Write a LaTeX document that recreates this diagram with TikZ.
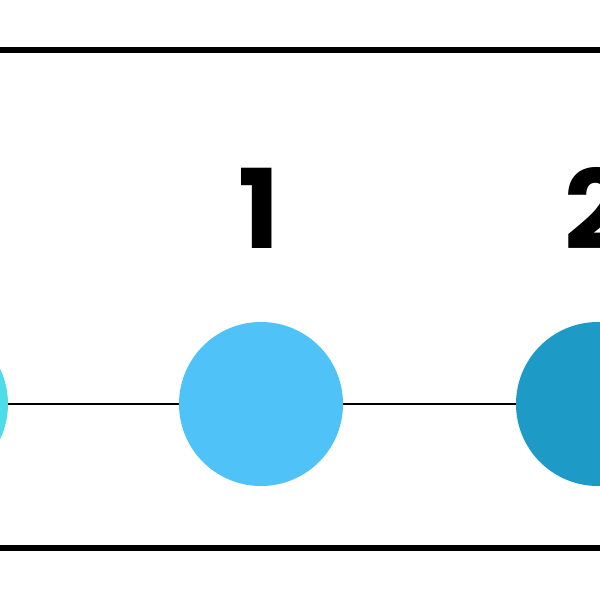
\documentclass[tikz,border=0pt]{standalone}
\usepackage{fontspec}
\newfontfamily\numfont{Poppins}
\definecolor{cA}{HTML}{4DDDE8}
\definecolor{cB}{HTML}{4FC3F7}
\definecolor{cC}{HTML}{1E9AC7}
\tikzset{dot/.style={circle,minimum size=164pt,inner sep=0pt},
num/.style={font=\numfont\bfseries\fontsize{110}{110}\selectfont,inner sep=0pt}}
\begin{document}
\begin{tikzpicture}[x=1pt,y=-1pt]
\useasboundingbox (0,0) rectangle (600,600);
\clip (0,0) rectangle (600,600);
\fill[white] (0,0) rectangle (600,600);
\draw[line width=6pt] (-10,50) -- (610,50);
\draw[line width=6pt] (-10,548) -- (610,548);
\node[dot,fill=cA] (c0) at (-74,404) {};
\node[dot,fill=cB] (c1) at (261,404) {};
\node[dot,fill=cC] (c2) at (598,404) {};
\draw[line width=1.2pt] (c0) -- (c1);
\draw[line width=1.2pt] (c1) -- (c2);
\node[num] (n1) at (259,208) {1};
\node[num] (n2) at (596,208) {2};
\end{tikzpicture}
\end{document}
